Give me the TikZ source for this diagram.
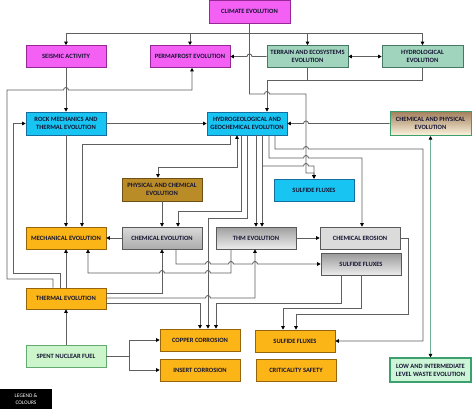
\documentclass[tikz,border=0pt]{standalone}
\usepackage{fontspec}
\setmainfont{Carlito}
\usetikzlibrary{arrows.meta,shadows}
\definecolor{mag}{RGB}{244,96,244}
\definecolor{magb}{RGB}{150,40,150}
\definecolor{tealf}{RGB}{160,212,188}
\definecolor{tealb}{RGB}{70,120,100}
\definecolor{cyanf}{RGB}{24,196,242}
\definecolor{cyanb}{RGB}{20,110,160}
\definecolor{orf}{RGB}{251,181,22}
\definecolor{orb}{RGB}{150,100,10}
\definecolor{goldf}{RGB}{186,140,40}
\definecolor{goldb}{RGB}{110,80,20}
\definecolor{greenf}{RGB}{204,245,204}
\definecolor{greenb}{RGB}{100,170,110}
\definecolor{lilwb}{RGB}{60,160,110}
\definecolor{lilwf}{RGB}{205,245,215}
\definecolor{txt}{RGB}{20,20,50}
\definecolor{lnc}{RGB}{95,95,95}
\definecolor{tealln}{RGB}{110,175,150}
\newcommand\hr[2]{-- (#1-2.5,#2) arc[start angle=180,end angle=0,radius=2.5pt]}
\newcommand\hl[2]{-- (#1+2.5,#2) arc[start angle=0,end angle=180,radius=2.5pt]}
\begin{document}
\begin{tikzpicture}[x=1pt,y=-1pt,
  box/.style={draw, line width=0.6pt, minimum width=80pt, minimum height=22pt, inner sep=1pt, align=center, text=txt, font=\bfseries\fontsize{6.5}{8}\selectfont},
  magbox/.style={box, fill=mag, draw=magb},
  tealbox/.style={box, fill=tealf, draw=tealb},
  cyanbox/.style={box, fill=cyanf, draw=cyanb},
  orbox/.style={box, fill=orf, draw=orb},
  goldbox/.style={box, fill=goldf, draw=goldb},
  graybox/.style={box, draw=gray!70!black, drop shadow={shadow xshift=1pt,shadow yshift=-1pt,opacity=0.35}},
  greenbox/.style={box, fill=greenf, draw=greenb},
  ln/.style={draw=lnc, line width=0.85pt},
  ar/.style={ln, -{Triangle[length=3.6pt,width=3.6pt,color=black]}},
  arr2/.style={ln, {Triangle[length=3.6pt,width=3.6pt,color=black]}-{Triangle[length=3.6pt,width=3.6pt,color=black]}},
]
\fill[white] (0,0) rectangle (474,409);
\useasboundingbox (0,0) rectangle (474,409);

% nodes
\node[magbox, minimum width=81pt, minimum height=23pt] (clim) at (249.5,11.5) {CLIMATE EVOLUTION};
\node[magbox] (seis) at (66,56.5) {SEISMIC ACTIVITY};
\node[magbox] (perm) at (190,56.5) {PERMAFROST EVOLUTION};
\node[tealbox, minimum width=81pt] (terr) at (307.5,56.5) {TERRAIN AND ECOSYSTEMS\\EVOLUTION};
\node[tealbox, minimum width=81pt] (hydro) at (422.5,56.5) {HYDROLOGICAL\\EVOLUTION};
\node[cyanbox, minimum height=23pt] (rock) at (66,123.5) {ROCK MECHANICS AND\\THERMAL EVOLUTION};
\node[cyanbox, minimum height=23pt] (hgeo) at (247,123.5) {HYDROGEOLOGICAL AND\\GEOCHEMICAL EVOLUTION};
\node[box, minimum width=81pt, minimum height=24pt, draw=lilwb, line width=1pt, top color=brown!55!gray, bottom color={rgb,255:red,252;green,244;blue,222}] (cphy) at (430.5,123.5) {CHEMICAL AND PHYSICAL\\EVOLUTION};
\node[goldbox, minimum height=23pt] (pchem) at (162,189.5) {PHYSICAL AND CHEMICAL\\EVOLUTION};
\node[cyanbox] (sulc) at (314,190) {SULFIDE FLUXES};
\node[orbox] (mech) at (66,238) {MECHANICAL EVOLUTION};
\node[graybox, top color=gray!30, bottom color=gray!65] (chem) at (162,238) {CHEMICAL EVOLUTION};
\node[graybox, top color=gray!75, bottom color=gray!15] (thm) at (256,238) {THM EVOLUTION};
\node[graybox, fill=gray!28] (ero) at (360,238) {CHEMICAL EROSION};
\node[graybox, top color=gray!80, bottom color=gray!15] (sulg) at (361,264) {SULFIDE FLUXES};
\node[orbox, minimum height=21pt] (therm) at (66,298.5) {THERMAL EVOLUTION};
\node[greenbox] (snf) at (66,356) {SPENT NUCLEAR FUEL};
\node[orbox] (copper) at (200,340) {COPPER CORROSION};
\node[orbox] (insert) at (200,370) {INSERT CORROSION};
\node[orbox] (sulo) at (295,341) {SULFIDE FLUXES};
\node[orbox] (crit) at (296,370) {CRITICALITY SAFETY};
\node[box, minimum width=81pt, minimum height=24pt, fill=lilwf, draw=lilwb, line width=1.1pt] (lilw) at (430.5,370) {LOW AND INTERMEDIATE\\LEVEL WASTE EVOLUTION};
\node[fill=black, text=white, minimum width=52pt, minimum height=20pt, inner sep=1pt, align=center, font=\fontsize{5.4}{7}\selectfont] (leg) at (26,399) {LEGEND \&\\COLOURS};

% junction coordinates
\coordinate (cj) at (249.5,33);
\coordinate (sj) at (262,166);
\coordinate (fj) at (129,356);

% climate
\draw[ar] (clim.south) |- (66,33) -- (seis.north);
\draw[ar] (cj) -| (perm.north);
\draw[ar] (cj) -| (terr.north);
\draw[ar] (cj) -| (hydro.north);
\draw[ar] (clim.south) -- (249.5,94) \hr{267}{94} -- (306,94) -- (306,173) -| (sulc.north);

% terrain / hydrological
\draw[ar] (terr.west) \hl{249.5}{56.5} -- (perm.east);
\draw[arr2] (terr.east) -- (hydro.west);
\draw[ln] (terr.south) -- (307.5,80);
\draw[ar] (hydro.south) -- (422.5,80) -- (267,80) -- (267,0 |- hgeo.north);

% seismic / rock
\draw[ar] (seis.south) -- (rock.north);
\draw[ar] (rock.east) -- (hgeo.west);
\draw[ar] (rock.south) -- (mech.north);
\draw[ar] (cphy.west) \hl{306}{123.5} -- (hgeo.east);
\draw[arr2, draw=tealln] (cphy.south) -- (lilw.north);

% thermal
\draw[ar] (53,0 |- therm.north) -- (53,279) -- (7,279) -- (7,90) \hr{66}{90} -- (192,90) -- (192,0 |- perm.south);
\draw[ar] (60,0 |- therm.north) -- (60,273) -- (13,273) -- (13,123.5) -- (rock.west);
\draw[ar] (therm.north) -- (mech.south);
\draw[ar] (snf.north) -- (therm.south);
\draw[ln] (snf.east) -- (fj);
\draw[ar] (fj) |- (copper.west);
\draw[ar] (fj) |- (insert.west);

% hydrogeological outputs
\draw[ar] (230,0 |- hgeo.south) -- (230,144) -- (82,144) -- (82,0 |- mech.north);
\draw[arr2] (237,0 |- hgeo.south) -- (237,167) -- (158,167) -- (158,0 |- pchem.north);
\draw[ar] (pchem.south) -- (chem.north);
\draw[ar] (241,0 |- hgeo.south) -- (241,211) -- (178,211) -- (178,0 |- chem.north);
\draw[ar] (247,0 |- hgeo.south) -- (247,218) -- (208,218) -- (208,0 |- copper.north);
\draw[ar] (256,0 |- hgeo.south) -- (256,0 |- thm.north);
\draw[ar] (262,0 |- hgeo.south) -- (262,0 |- thm.north);
\draw[ar] (sj) \hr{306}{166} -- (314,166) -- (sulc.north);
\draw[ar] (269,0 |- hgeo.south) -- (269,158) \hr{306}{158} -- (362,158) -- (362,0 |- ero.north);
\draw[ar] (275,0 |- hgeo.south) -- (275,149) \hr{306}{149} -- (423,149) -- (423,341) -- (sulo.east);

% middle row
\draw[ar] (chem.west) -- (mech.east);
\draw[ar] (thm.east) -- (ero.west);
\draw[ar] (176,0 |- chem.south) -- (176,264) \hr{208}{264} \hr{231}{264} \hr{255}{264} -- (sulg.west);
\draw[ar] (231,0 |- thm.south) -- (231,273) \hl{208}{273} \hl{162}{273} -- (88,273) -- (88,0 |- mech.south);
\draw[ar] (therm.east |- 0,293) -- (162,293) -- (chem.south);
\draw[ar] (therm.east |- 0,298) \hr{208}{298} -- (255,298) -- (255,0 |- thm.south);
\draw[ar] (therm.east |- 0,303) -- (200,303) -- (200,0 |- copper.north);
\draw[ar] (341,0 |- sulg.south) -- (341,303) -- (216,303) -- (216,0 |- copper.north);
\draw[ar] (sulg.south) -- (361,308) -- (283,308) -- (283,0 |- sulo.north);
\draw[ar] (ero.east) -- (408,238) -- (408,314) -- (296,314) -- (296,0 |- sulo.north);
\end{tikzpicture}
\end{document}
